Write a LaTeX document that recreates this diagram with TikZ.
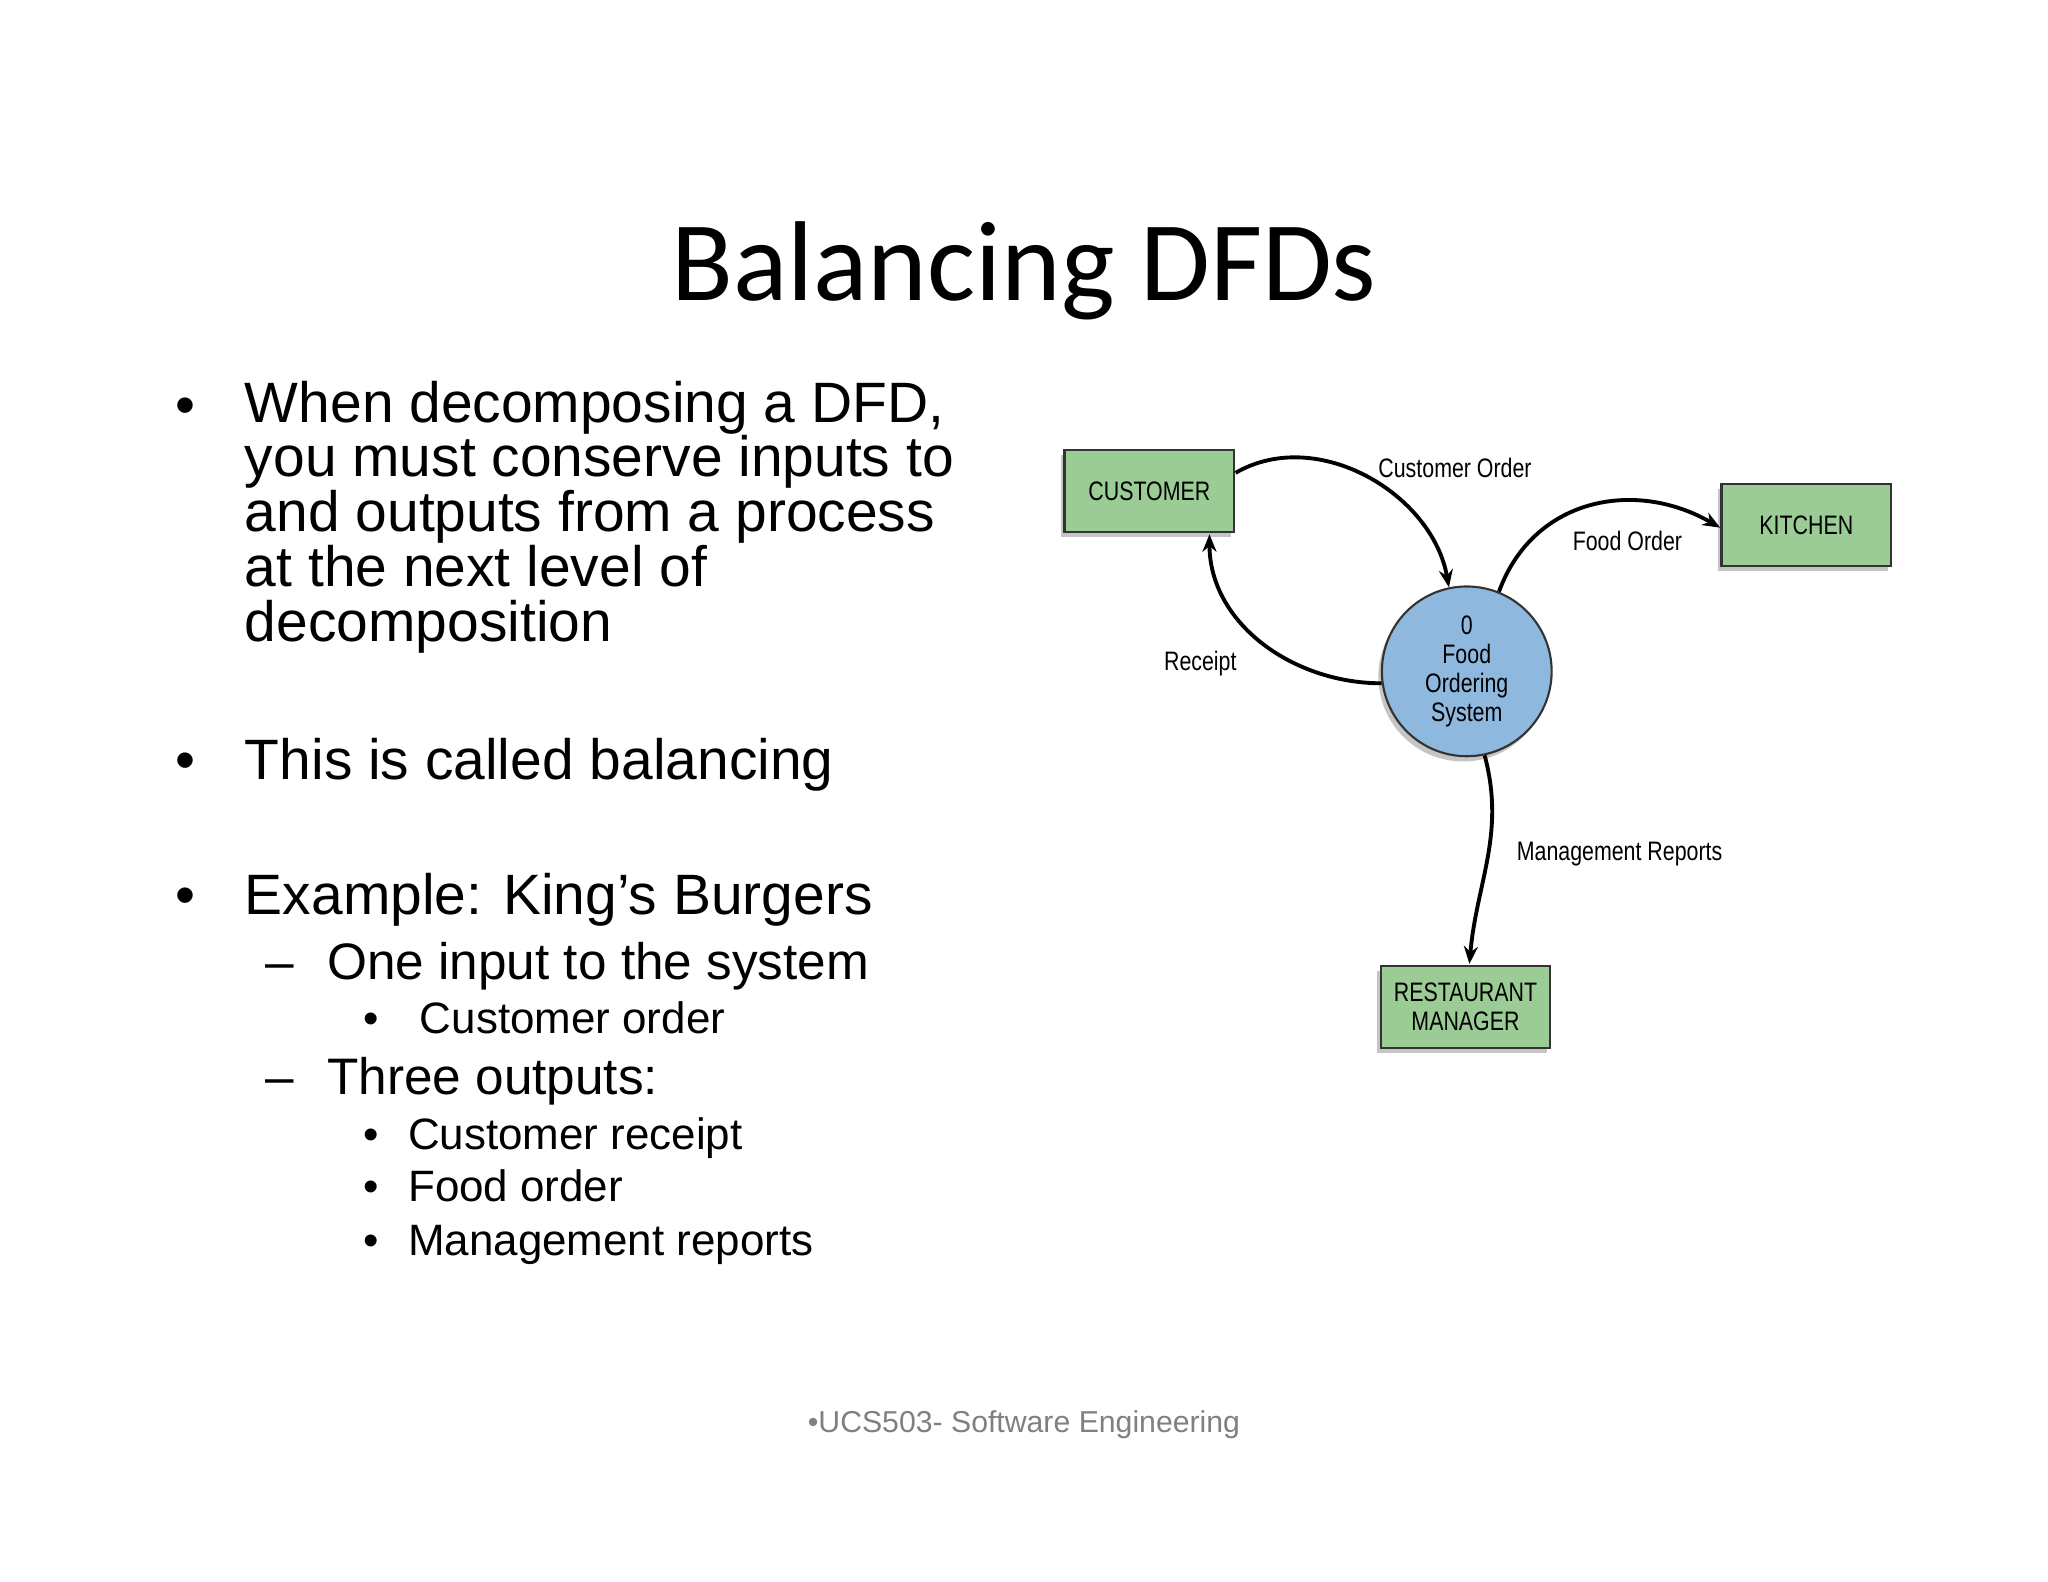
\documentclass[tikz,border=0pt]{standalone}
\usepackage{fontspec}
\setmainfont{Liberation Sans}
\newfontfamily\titlefont{Carlito}
\newfontfamily\dfdfont{Liberation Sans}[FakeStretch=0.8]
\usetikzlibrary{arrows.meta,shadows}
\definecolor{entitygreen}{RGB}{155,204,150}
\definecolor{processblue}{RGB}{143,184,222}
\definecolor{footgray}{RGB}{128,128,128}
\tikzset{%
    % style for the external entities
    entity/.style={%
        draw=black!80,
        fill=entitygreen,
        line width=0.6pt,
        minimum width=48.3pt,
        minimum height=23.4pt,
        inner sep=1pt,
        align=center,
        font=\dfdfont\fontsize{7.6}{8.2}\selectfont,
        drop shadow={shadow xshift=-1pt, shadow yshift=-1.5pt, fill=black!45},
    },
    % style for the process bubble
    process/.style={%
        draw=black!80,
        fill=processblue,
        line width=0.6pt,
        circle,
        minimum size=48.3pt,
        inner sep=0pt,
        align=center,
        font=\dfdfont\fontsize{7.6}{8.2}\selectfont,
        drop shadow={shadow xshift=-1pt, shadow yshift=-1.5pt, fill=black!45},
    },
    % style for data flows
    flow/.style={%
        line width=1.1pt,
        -{Stealth[length=5pt,width=4pt]},
    },
    % style for the flow labels
    flow label/.style={%
        font=\dfdfont\fontsize{7.6}{8.2}\selectfont,
    },
    % style for the slide bullets
    item/.style={anchor=base west, inner sep=0pt},
}
\begin{document}
\begin{tikzpicture}[x=0.01306cm, y=-0.01306cm]
    \path [use as bounding box, fill=white] (0,0) rectangle (1568,1211);
    % title
    \node (title) at (784,207) {\titlefont\fontsize{32.3}{36}\selectfont Balancing DFDs};
    % bullets
    \begin{scope}[font=\fontsize{16.2}{15.6}\selectfont]
        \node [item] (b1) at (134,325) {\textbullet};
        \node [item, align=left, anchor=north west] (t1) at (187,291)
            {When decomposing a DFD,\\you must conserve inputs to\\and outputs from a process\\at the next level of\\decomposition};
        \node [item] (b2) at (134,597) {\textbullet};
        \node [item] (t2) at (187,597) {This is called balancing};
        \node [item] (b3) at (134,700) {\textbullet};
        \node [item] (t3) at (187,700) {Example: King’s Burgers};
    \end{scope}
    \begin{scope}[font=\fontsize{14.6}{15}\selectfont]
        \node [item] (d1) at (203,750) {--};
        \node [item] (s1) at (250,750) {One input to the system};
        \node [item] (d2) at (203,838) {--};
        \node [item] (s2) at (250,838) {Three outputs:};
    \end{scope}
    \begin{scope}[font=\fontsize{12.5}{13}\selectfont]
        \node [item] (e1) at (278,791) {\textbullet};
        \node [item] (u1) at (321,791) {Customer order};
        \node [item] (e2) at (278,880) {\textbullet};
        \node [item] (u2) at (312,880) {Customer receipt};
        \node [item] (e3) at (278,920) {\textbullet};
        \node [item] (u3) at (312,920) {Food order};
        \node [item] (e4) at (278,961) {\textbullet};
        \node [item] (u4) at (312,961) {Management reports};
    \end{scope}
    % footer
    \node [footgray, font=\fontsize{8.6}{9}\selectfont] (foot) at (784,1091)
        {\textbullet UCS503- Software Engineering};
    % diagram
    \node (cust) [entity] at (880,376) {CUSTOMER};
    \node (kitch) [entity] at (1383,402) {KITCHEN};
    \node (mgr) [entity] at (1122,771) {RESTAURANT\\MANAGER};
    \node (sys) [process] at (1123,514) {0\\Food\\Ordering\\System};
    %% ends of the flows on the boxes
    \coordinate (co-start) at (946,362);
    \coordinate (re-end) at (926,409);
    \coordinate (fo-end) at (1317,404);
    \coordinate (mr-end) at (1125,738);
    %% flows
    \draw [flow] (co-start) to [out=30, in=100] (sys.102);
    \draw [flow] (sys.188) to [out=180, in=270] (re-end);
    \draw [flow] (sys.68) to [out=70, in=150, looseness=1.1] (fo-end);
    \draw [flow] (sys.282) to [out=-75, in=85] (mr-end);
    %% labels
    \node [flow label] (lco) at (1114,358) {Customer Order};
    \node [flow label] (lfo) at (1246,414) {Food Order};
    \node [flow label] (lre) at (919,508) {Receipt};
    \node [flow label] (lmr) at (1240,654) {Management Reports};
\end{tikzpicture}
\end{document}
